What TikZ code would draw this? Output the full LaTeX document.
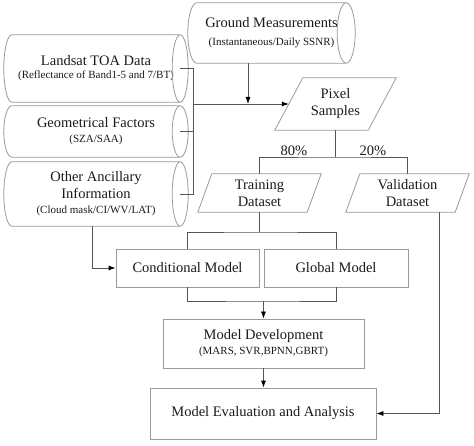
\documentclass[tikz,border=0pt]{standalone}
\usepackage{fontspec}
\setmainfont{Liberation Serif}
\usetikzlibrary{calc,arrows.meta}
\definecolor{shp}{HTML}{9A9A9A}
\definecolor{lnk}{HTML}{555555}
\definecolor{txt}{HTML}{1A1A1A}
\tikzset{
  base/.style={inner sep=0pt, align=center, text=txt, font=\fontsize{14.5}{17}\selectfont},
  boxnode/.style={base, draw=shp, line width=0.8pt},
  shapenode/.style={base},
  link/.style={draw=lnk, line width=0.8pt},
  arr/.style={link, -{Latex[length=7pt,width=5pt,color=black]}},
  pct/.style={base},
  outline/.style={draw=shp, line width=0.8pt}
}
\newcommand\subt[1]{{\fontsize{11}{12}\selectfont #1}}
\newcommand\cylout[2]{%
  \draw[outline] let \p1=(#1.north west), \p2=(#1.south east), \n1={(\y1-\y2)/2} in
    (\x2-#2,\y1) -- (\x1+#2,\y1)
    arc[start angle=90,end angle=270,x radius=#2,y radius=\n1]
    -- (\x2-#2,\y2)
    arc[start angle=-90,end angle=90,x radius=#2,y radius=\n1]
    arc[start angle=90,end angle=270,x radius=#2,y radius=\n1];}
\newcommand\paraout[2]{%
  \draw[outline] ([xshift=#2]#1.north west) -- (#1.north east)
    -- ([xshift=-#2]#1.south east) -- (#1.south west) -- cycle;}
\begin{document}
\begin{tikzpicture}[x=1pt,y=1pt]
\useasboundingbox (0,0) rectangle (474,-446);
% cylinders
\node[shapenode, minimum width=184pt, minimum height=67pt] (landsat) at (96,-68.5)
  {Landsat TOA Data\\[-4pt]\subt{(Reflectance of Band1-5 and 7/BT)}};
\node[shapenode, minimum width=184pt, minimum height=51pt] (geo) at (96,-131.5)
  {Geometrical Factors\\[-2pt]\subt{(SZA/SAA)}};
\node[shapenode, minimum width=184pt, minimum height=64pt] (other) at (96,-194)
  {Other Ancillary\\Information\\[-2pt]\subt{(Cloud mask/CI/WV/LAT)}};
\node[shapenode, minimum width=167pt, minimum height=60pt] (ground) at (271.5,-33)
  {Ground Measurements\\[1pt]\subt{(Instantaneous/Daily SSNR)}};
\cylout{landsat}{8pt}
\cylout{geo}{8pt}
\cylout{other}{8pt}
\cylout{ground}{9pt}
% parallelograms
\node[shapenode, minimum width=121pt, minimum height=52pt] (pixel) at (335.5,-104)
  {Pixel\\Samples};
\node[shapenode, minimum width=123pt, minimum height=38pt] (training) at (259.5,-193)
  {Training\\Dataset};
\node[shapenode, minimum width=123pt, minimum height=38pt] (validation) at (407.5,-193)
  {Validation\\Dataset};
\paraout{pixel}{28pt}
\paraout{training}{14pt}
\paraout{validation}{14pt}
% boxes
\node[boxnode, minimum width=143pt, minimum height=38pt] (conditional) at (187.5,-268)
  {Conditional Model};
\node[boxnode, minimum width=144pt, minimum height=38pt] (global) at (336,-268)
  {Global Model};
\node[boxnode, minimum width=201pt, minimum height=49pt] (modeldev) at (263.5,-343.5)
  {Model Development\\[-2pt]\subt{(MARS, SVR,BPNN,GBRT)}};
\node[boxnode, minimum width=226pt, minimum height=51pt] (eval) at (263,-413.5)
  {Model Evaluation and Analysis};
% labels
\node[pct] (p80) at (294,-151) {80\%};
\node[pct] (p20) at (373,-151) {20\%};
% connectors
\coordinate (brk) at (193,-104);
\draw[link] ([xshift=-8pt]landsat.east) -| (brk);
\draw[link] ([xshift=-8pt]other.east) -| (brk);
\draw[link] ([xshift=-8pt]geo.east) -- (geo.east -| brk);
\draw[arr] (brk) -- ([xshift=14pt]pixel.west);
\draw[arr] ([xshift=-23.5pt]ground.south) -- ([xshift=-23.5pt]ground.south |- brk);
\coordinate (split) at (335.5,-157);
\draw[link] (pixel.south) -- (split);
\draw[link] (training.north) |- (split) -| (validation.north);
\coordinate (tsplit) at (259.5,-232);
\draw[link] (training.south) -- (tsplit);
\draw[link] (conditional.north) |- (tsplit) -| (global.north);
\coordinate (msplit) at (263.5,-301);
\draw[link] (conditional.south) |- (msplit) -| (global.south);
\draw[arr] (msplit) -- (modeldev.north);
\draw[arr] (modeldev.south) -- (modeldev.south |- eval.north);
\draw[arr] ([xshift=-4pt]other.south) |- (conditional.west);
\draw[arr] ([xshift=31.5pt]validation.south) |- (eval.east);
\end{tikzpicture}
\end{document}
